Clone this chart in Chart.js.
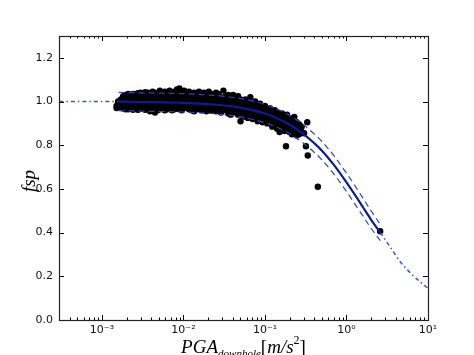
<!DOCTYPE html>
<html><head><meta charset="utf-8">
<script src="https://cdn.jsdelivr.net/npm/chart.js@4/dist/chart.umd.min.js"></script>
<style>html,body{margin:0;padding:0;background:#fff}#wrap{width:474px;height:355px}</style>
</head><body><div id="wrap"><canvas id="c" width="474" height="355"></canvas></div>
<script>
// observed points, grouped in columns: PGA value and the fsp values read at that PGA
const obsPGA = [0.00151,0.00158,0.0017,0.00182,0.00195,0.0021,0.00224,0.0024,0.00257,0.00275,0.00295,0.00316,0.00339,0.00363,0.00389,0.00417,0.00447,0.00479,0.00513,0.0055,0.00589,0.00631,0.00676,0.00724,0.00776,0.00832,0.00891,0.00955,0.0102,0.011,0.0117,0.0126,0.0135,0.0145,0.0155,0.0166,0.0178,0.0191,0.0204,0.0219,0.0234,0.0251,0.0269,0.0288,0.0309,0.0331,0.0355,0.038,0.0407,0.0437,0.0468,0.0501,0.0537,0.0575,0.0617,0.0661,0.0708,0.0759,0.0813,0.0871,0.0933,0.1,0.107,0.115,0.123,0.132,0.141,0.151,0.162,0.174,0.186,0.2,0.214,0.229,0.245,0.263,0.282,0.302];
const obsFsp = [
[0.98,0.97],[1.0,0.985],[0.99,0.975,1.01],[1.0,0.968,1.025],[0.985,1.02,0.965,1.03],
[1.0,0.97,1.035,1.015,0.965],[0.99,1.025,0.968,1.005,0.98],[1.01,0.975,1.035,0.962,0.995],
[1.02,0.985,0.967,1.0,1.033],[0.97,1.01,0.99,1.038,0.962],[1.0,0.98,1.025,0.966,1.04],
[0.99,1.015,0.97,1.005,1.035],[0.975,1.03,0.995,0.962,1.043,1.01],[1.0,0.985,1.02,0.965,1.04],
[0.97,1.01,0.995,1.03,0.955],[1.005,0.98,1.045,0.965,1.02],[0.99,1.025,0.95,1.0,1.04],
[1.015,0.975,1.035,0.96,0.995],[1.0,0.985,1.05,0.965,1.02],[0.97,1.01,1.04,0.99,1.03],
[1.005,0.975,1.025,0.96,1.045],[0.99,1.015,0.965,1.035,1.0],[1.02,0.98,1.05,0.97,1.005],
[0.995,1.03,0.96,1.01,1.04],[0.975,1.02,1.0,1.045,0.965],[1.01,0.985,1.035,0.97,1.055],
[0.99,1.025,0.965,1.06,1.005],[1.015,0.98,1.04,0.96,0.995],[1.0,1.03,0.975,1.05,0.985],
[0.97,1.01,1.035,0.99,1.02],[1.005,0.965,1.025,0.985,1.045],[0.99,1.015,0.96,1.035,1.0],
[0.975,1.02,1.0,1.04,0.955],[1.01,0.985,1.03,0.965,0.995],[0.97,1.005,1.025,0.99,1.045],
[1.0,0.98,1.035,0.96,1.015],[0.985,1.02,0.965,1.005,1.04],[1.01,0.975,1.03,0.955,0.995],
[0.99,1.025,0.97,1.045,1.0],[0.98,1.015,0.96,1.035,1.005],[1.0,0.97,1.03,0.985,1.02],
[0.99,1.01,0.955,1.04,0.975],[1.005,0.965,1.025,0.985,1.035],[0.975,1.0,1.02,0.95,0.99],
[1.015,0.97,1.05,0.985,1.0],[0.99,1.025,0.96,1.005,0.975],[0.98,1.01,0.945,1.03,0.995],
[1.0,0.965,1.02,0.985,0.94],[0.975,1.01,0.95,0.995,1.03],[0.99,0.96,1.015,0.975,1.0],
[0.97,1.005,0.94,0.985,1.025],[0.96,0.995,0.91,0.98,1.01],[0.975,0.95,1.0,0.935,0.99],
[0.965,0.99,0.93,1.01,0.95],[0.98,0.945,0.96,1.0,0.925],[0.955,0.99,0.935,0.97,1.02],
[0.97,0.92,0.95,0.985,0.94],[0.945,0.965,1.0,0.93,0.955],[0.96,0.935,0.98,0.91,0.95],
[0.94,0.97,0.92,0.955,0.99],[0.955,0.925,0.975,0.94,0.905],[0.93,0.96,0.945,0.915,0.98],
[0.95,0.92,0.965,0.935,0.9],[0.94,0.91,0.955,0.925,0.97],[0.925,0.95,0.9,0.935,0.885],
[0.915,0.945,0.93,0.895,0.96],[0.935,0.905,0.92,0.95,0.875],[0.92,0.89,0.94,0.905,0.86],
[0.9,0.93,0.875,0.915,0.945],[0.885,0.91,0.935,0.865],[0.92,0.895,0.87,0.94],
[0.88,0.905,0.86,0.925],[0.895,0.87,0.915,0.85],[0.9,0.875,0.93,0.855],
[0.88,0.86,0.905,0.845],[0.87,0.895,0.85],[0.885,0.86],[0.855]
];
const outlierPGA = [0.181,0.318,0.335,0.33,0.445,2.59];
const outlierFsp = [0.795,0.795,0.753,0.905,0.61,0.406];

// fitted model curve (solid)
const fitPGA = [0.0016,0.003,0.006,0.01,0.02,0.03,0.05,0.07,0.1,0.14,0.2,0.3,0.4,0.5,0.7,1.0,1.3,1.6,2.0,2.6];
const fitFsp = [1.0,0.998,0.996,0.994,0.988,0.983,0.972,0.961,0.945,0.924,0.895,0.85,0.81,0.775,0.71,0.63,0.567,0.515,0.46,0.40];
const upperFsp = [1.042,1.04,1.038,1.036,1.03,1.025,1.014,1.003,0.987,0.966,0.937,0.892,0.852,0.817,0.752,0.672,0.609,0.556,0.5,0.437];
const lowerFsp = [0.958,0.956,0.954,0.952,0.946,0.941,0.93,0.919,0.903,0.882,0.853,0.808,0.768,0.733,0.668,0.588,0.525,0.474,0.42,0.363];
// extrapolation (dash-dot)
const extLeftPGA = [0.0003,0.0016];
const extLeftFsp = [1.0,1.0];
const extRightPGA = [2.6,3.5,4.6,6.5,10];
const extRightFsp = [0.40,0.33,0.265,0.205,0.145];

const xMajor = [0.001,0.01,0.1,1,10];
const xMajorLabels = ['10\u207B\u00B3','10\u207B\u00B2','10\u207B\u00B9','10\u2070','10\u00B9'];
const yTicks = [0,0.2,0.4,0.6,0.8,1.0,1.2];

const pair = (xs, ys) => xs.map((x,i)=>({x:x,y:ys[i]}));
const obsPts = [];
obsPGA.forEach((x,i)=>obsFsp[i].forEach(y=>obsPts.push({x:x,y:y})));
pair(outlierPGA,outlierFsp).forEach(p=>obsPts.push(p));

const frame = {
  id:'frame',
  afterDraw(chart){
    const {ctx, chartArea:a, scales:{x,y}} = chart;
    ctx.save();
    ctx.strokeStyle='#000'; ctx.lineWidth=1;
    ctx.beginPath();
    for(let e=-4;e<=1;e++){
      for(let m=1;m<=9;m++){
        const v=m*Math.pow(10,e);
        if(v<x.min-1e-12||v>x.max+1e-12) continue;
        const px=Math.round(x.getPixelForValue(v))+0.5;
        const len = m===1?5:2.5;
        ctx.moveTo(px,a.bottom); ctx.lineTo(px,a.bottom-len);
        ctx.moveTo(px,a.top); ctx.lineTo(px,a.top+len);
      }
    }
    yTicks.forEach(v=>{
      const py=Math.round(y.getPixelForValue(v))+0.5;
      ctx.moveTo(a.left,py); ctx.lineTo(a.left+5,py);
      ctx.moveTo(a.right,py); ctx.lineTo(a.right-5,py);
    });
    ctx.stroke();
    ctx.strokeStyle='#222'; ctx.lineWidth=1.2;
    ctx.strokeRect(Math.round(a.left)+0.5,Math.round(a.top)+0.5,Math.round(a.right-a.left),Math.round(a.bottom-a.top));
    // axis titles
    ctx.fillStyle='#000';
    ctx.textBaseline='alphabetic';
    const cx=(a.left+a.right)/2;
    const fam='"Liberation Serif"';
    const f1='italic 19px '+fam, f2='italic 11px '+fam, f3='19px '+fam, f4='12px '+fam;
    const parts=[['PGA',f1,0],['downhole',f2,4],['[',f3,0],['m/s',f1,0],['2',f4,-9],[']',f3,0]];
    let w=0; parts.forEach(p=>{ctx.font=p[1]; w+=ctx.measureText(p[0]).width;});
    let px=cx-w/2; const base=353;
    parts.forEach(p=>{ctx.font=p[1]; ctx.textAlign='left'; ctx.fillText(p[0],px,base+p[2]); px+=ctx.measureText(p[0]).width;});
    ctx.save();
    ctx.translate(35,(a.top+a.bottom)/2+3);
    ctx.rotate(-Math.PI/2);
    ctx.font='italic 19px '+fam; ctx.textAlign='center';
    ctx.fillText('fsp',0,0);
    ctx.restore();
    ctx.restore();
  }
};

new Chart(document.getElementById('c'),{
  type:'scatter',
  data:{datasets:[
    {data:pair(fitPGA,fitFsp),showLine:true,borderColor:'#0b1a9c',borderWidth:2.2,pointRadius:0,cubicInterpolationMode:'monotone',order:1},
    {data:pair(fitPGA,upperFsp),showLine:true,borderColor:'#2a45cc',borderWidth:1.2,borderDash:[6,4],pointRadius:0,cubicInterpolationMode:'monotone',order:2},
    {data:pair(fitPGA,lowerFsp),showLine:true,borderColor:'#2a45cc',borderWidth:1.2,borderDash:[6,4],pointRadius:0,cubicInterpolationMode:'monotone',order:2},
    {data:pair(extLeftPGA,extLeftFsp),showLine:true,borderColor:'#3350e0',borderWidth:1.5,borderDash:[4,3,1.5,3],pointRadius:0,order:3},
    {data:pair(extRightPGA,extRightFsp),showLine:true,borderColor:'#3350e0',borderWidth:1.5,borderDash:[4,3,1.5,3],pointRadius:0,cubicInterpolationMode:'monotone',order:3},
    {data:obsPts,showLine:false,backgroundColor:'#000',borderColor:'#000',borderWidth:0,pointRadius:3.2,order:5}
  ]},
  options:{
    responsive:false,animation:false,
    layout:{padding:{left:0,right:46,top:36,bottom:0}},
    plugins:{legend:{display:false},tooltip:{enabled:false}},
    scales:{
      x:{type:'logarithmic',min:0.000297,max:10,
        afterBuildTicks(s){s.ticks=xMajor.map(v=>({value:v}));},
        afterFit(s){s.height=35;},
        grid:{display:false,drawTicks:false},border:{display:false},
        ticks:{autoSkip:false,maxRotation:0,padding:4,color:'#111',font:{family:'DejaVu Sans',size:11},
          callback:(v)=>{const i=xMajor.findIndex(m=>Math.abs(m-v)/m<1e-6);return i>=0?xMajorLabels[i]:'';}}
      },
      y:{type:'linear',min:0,max:1.3,
        afterBuildTicks(s){s.ticks=yTicks.map(v=>({value:v}));},
        afterFit(s){s.width=59;},
        grid:{display:false,drawTicks:false},border:{display:false},
        ticks:{padding:6,color:'#111',font:{family:'DejaVu Sans',size:11},callback:(v)=>Number(v).toFixed(1)}
      }
    }
  },
  plugins:[frame]
});
</script></body></html>
